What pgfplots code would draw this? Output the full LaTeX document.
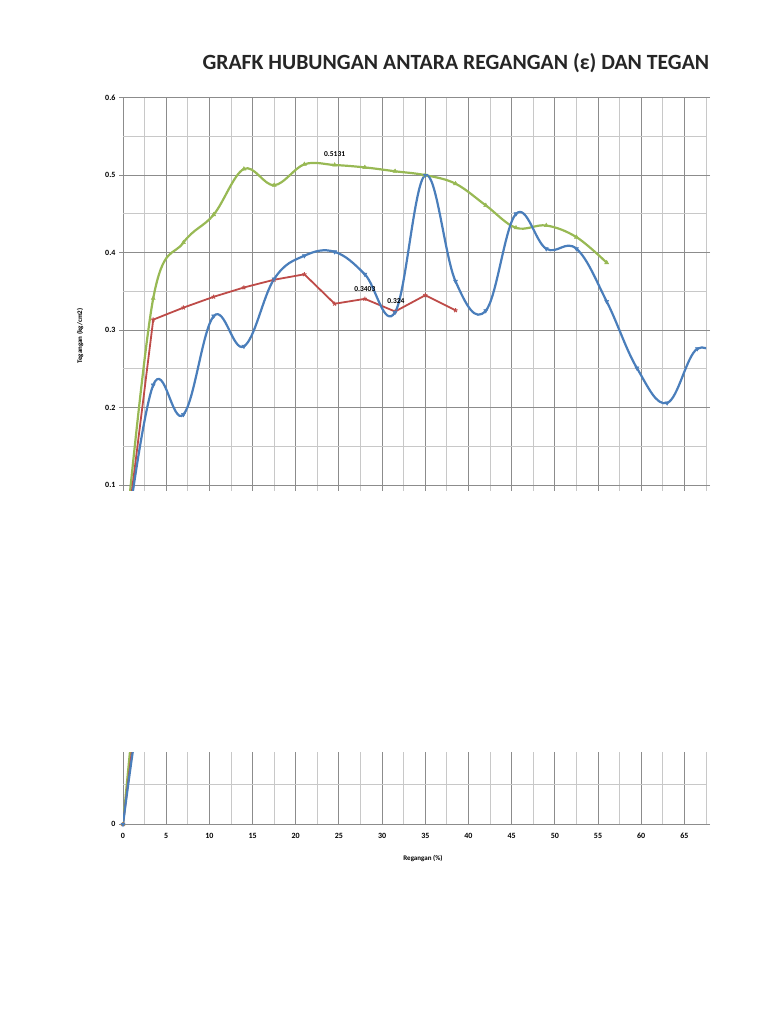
\documentclass[border=0pt]{standalone}
\usepackage{fontspec}
\setmainfont{Carlito}
\usepackage{pgfplots}
\usepackage{pgfplotstable}
\pgfplotsset{compat=1.18}

\definecolor{xblue}{HTML}{4A7EBB}
\definecolor{xred}{HTML}{BE4B48}
\definecolor{xgreen}{HTML}{98B954}
\definecolor{gmaj}{HTML}{8C8C8C}
\definecolor{gmin}{HTML}{C8C8C8}

\pgfplotstableread{
x y
0 0
3.5 0.229
7 0.191
10.5 0.318
14 0.279
17.5 0.366
21 0.396
24.5 0.401
28 0.372
31.5 0.323
35 0.500
38.5 0.363
42 0.325
45.5 0.450
49 0.405
52.5 0.405
56 0.337
59.5 0.251
63 0.206
66.5 0.276
70 0.255
}\blueS

\pgfplotstableread{
x y
0 0
3.5 0.3135
7 0.329
10.5 0.343
14 0.355
17.5 0.365
21 0.372
24.5 0.334
28 0.3403
31.5 0.324
35 0.345
38.5 0.3255
}\redS

\pgfplotstableread{
x y
0 0
3.5 0.341
7 0.413
10.5 0.449
14 0.508
17.5 0.487
21 0.514
24.5 0.5131
28 0.510
31.5 0.505
35 0.500
38.5 0.489
42 0.461
45.5 0.432
49 0.435
52.5 0.420
56 0.387
}\greenS

\pgfplotsset{
  base/.style={
    scale only axis, width=583pt, xmin=0, xmax=67.5,
    grid=both,
    major grid style={gmaj, line width=0.9pt},
    minor grid style={gmin, line width=0.9pt},
    xtick={0,5,...,65}, minor xtick={2.5,7.5,...,67.5},
    axis line style={draw=none},
    xtick style={draw=none},
    ytick style={gmaj, line width=0.8pt},
    major tick length=4pt,
    tick align=outside,
    minor tick length=0pt,
    scaled y ticks=false, scaled x ticks=false,
    tick label style={font=\bfseries\fontsize{8}{9}\selectfont},
    /pgf/number format/assume math mode=true,
    /pgf/number format/fixed,
    /pgf/number format/precision=1,
    clip=true,
  },
  sblue/.style={xblue, line width=2.2pt, smooth, tension=0.65, mark=triangle*, mark size=2.3pt,
    mark options={rotate=180, fill=xblue, draw=xblue, line width=0.5pt}},
  sred/.style={xred, line width=1.8pt, mark=star, mark size=2.2pt,
    mark options={draw=xred, line width=1pt}},
  sgreen/.style={xgreen, line width=2.2pt, smooth, tension=0.6, mark=triangle*, mark size=2.3pt,
    mark options={fill=xgreen, draw=xgreen, line width=0.5pt}},
}

\begin{document}
\begin{tikzpicture}[x=1pt,y=1pt]
\path[use as bounding box] (0,0) rectangle (768,1024);

% top section
\begin{axis}[base, at={(123pt,533pt)}, anchor=south west, height=393.3pt,
  ymin=0.0923, ymax=0.6,
  ytick={0.1,0.2,0.3,0.4,0.5,0.6},
  minor ytick={0.15,0.25,0.35,0.45,0.55},
  xticklabels={}]
\addplot[sgreen] table {\greenS};
\addplot[sred] table {\redS};
\addplot[sblue] table {\blueS};
\node[font=\bfseries\fontsize{7.5}{9}\selectfont, above=5pt] at (axis cs:24.5,0.5131) {0.5131};
\node[font=\bfseries\fontsize{7.5}{9}\selectfont, above=4pt] at (axis cs:28,0.3403) {0.3403};
\node[font=\bfseries\fontsize{7.5}{9}\selectfont, above=4pt] at (axis cs:31.6,0.324) {0.324};
\end{axis}

% bottom section
\begin{axis}[base, at={(123pt,199.7pt)}, anchor=south west, height=72pt,
  ymin=0, ymax=0.09,
  ytick={0}, minor ytick={0.05},
  yticklabels={0},
  xticklabel style={yshift=-1pt}]
\addplot[sgreen] table {\greenS};
\addplot[sred] table {\redS};
\addplot[sblue] table {\blueS};
\end{axis}

\node[anchor=west, font=\bfseries\fontsize{21.7}{26}\selectfont, text=black!85] at (199,961) {GRAFK HUBUNGAN ANTARA REGANGAN (ε) DAN TEGAN};
\node[rotate=90, font=\bfseries\fontsize{7}{8}\selectfont] at (80,688) {Tegangan (kg/cm2)};
\node[font=\bfseries\fontsize{7}{8}\selectfont] at (423,166) {Regangan (\%)};
\end{tikzpicture}
\end{document}
